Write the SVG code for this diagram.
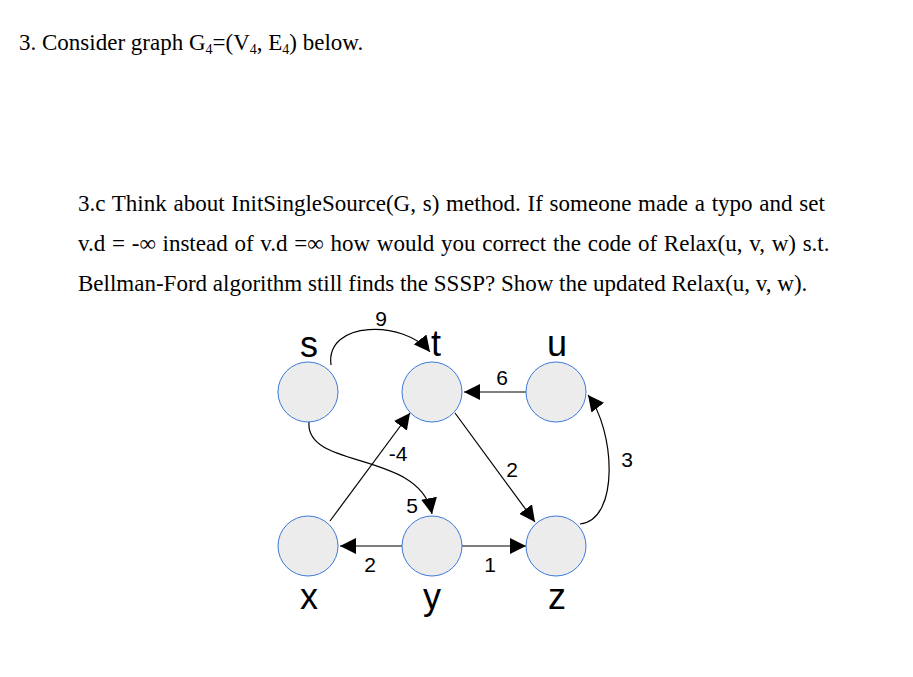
<svg xmlns="http://www.w3.org/2000/svg" width="913" height="677" viewBox="0 0 913 677">
<style>
.t{font-family:"Liberation Serif",serif;font-size:23px;fill:#000}
.n{fill:#ececec;stroke:#3c78d8;stroke-width:1}
.lb{font-family:"Liberation Sans",sans-serif;font-size:36px;text-anchor:middle}
.w{font-family:"Liberation Sans",sans-serif;font-size:21px;text-anchor:middle}
.e{fill:none;stroke:#000;stroke-width:1.2;marker-end:url(#a)}
</style>
<defs><marker id="a" viewBox="0 0 10 10" refX="10" refY="5" markerWidth="16" markerHeight="16" markerUnits="userSpaceOnUse" orient="auto"><path d="M0,0L10,5L0,10z"/></marker></defs>
<rect width="913" height="677" fill="#fff"/>
<text class="t" x="19" y="50">3. Consider graph  G<tspan font-size="14" dy="4">4</tspan><tspan dy="-4">=(V</tspan><tspan font-size="14" dy="4">4</tspan><tspan dy="-4">, E</tspan><tspan font-size="14" dy="4">4</tspan><tspan dy="-4">) below.</tspan></text>
<text class="t" x="78" y="211" word-spacing="1">3.c  Think about InitSingleSource(G, s) method. If someone made a typo and set</text>
<text class="t" x="78" y="251" word-spacing="1">v.d = -∞ instead of v.d =∞ how would you correct the code of Relax(u, v, w) s.t.</text>
<text class="t" x="78" y="291">Bellman-Ford algorithm still finds the SSSP? Show the updated Relax(u, v, w).</text>
<g id="edges">
<path class="e" d="M331,365 C325,320 405,320 430,352"/>
<path class="e" d="M309,422 C305,470 420,450 432,514"/>
<path class="e" d="M330,521 L410,413"/>
<path class="e" d="M455,413 L535,522"/>
<path class="e" d="M526,392 L464,392"/>
<path class="e" d="M402,546 L340,546"/>
<path class="e" d="M462,546 L526,546"/>
<path class="e" d="M580,524 C620,520 615,430 588,395"/>
<text class="w" x="381" y="326">9</text>
<text class="w" x="502" y="385">6</text>
<text class="w" x="398" y="461">-4</text>
<text class="w" x="512" y="477">2</text>
<text class="w" x="627" y="467">3</text>
<text class="w" x="412" y="513">5</text>
<text class="w" x="370" y="572">2</text>
<text class="w" x="490" y="572">1</text>
</g>
<g id="s"><circle class="n" cx="308" cy="392" r="30"/><text class="lb" x="309" y="357">s</text></g>
<g id="t"><circle class="n" cx="432" cy="392" r="30"/><text class="lb" x="436" y="356">t</text></g>
<g id="u"><circle class="n" cx="556" cy="392" r="30"/><text class="lb" x="557" y="356">u</text></g>
<g id="x"><circle class="n" cx="308" cy="546" r="30"/><text class="lb" x="309" y="609">x</text></g>
<g id="y"><circle class="n" cx="432" cy="546" r="30"/><text class="lb" x="432" y="609">y</text></g>
<g id="z"><circle class="n" cx="556" cy="546" r="30"/><text class="lb" x="557" y="609">z</text></g>
</svg>
